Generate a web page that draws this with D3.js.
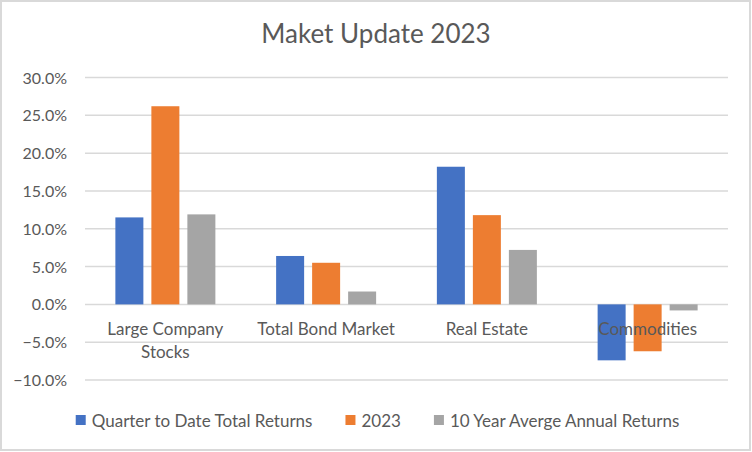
<!DOCTYPE html>
<html>
<head>
<meta charset="utf-8">
<script src="https://cdn.jsdelivr.net/npm/d3@7/dist/d3.min.js"></script>
<style>
  html, body { margin: 0; padding: 0; background: #fff; }
  svg { display: block; }
  text { font-family: Lato, "Open Sans", sans-serif; fill: #595959; }
</style>
</head>
<body>
<svg id="chart" width="752" height="452"></svg>
<script>
const categories = ["Large Company Stocks", "Total Bond Market", "Real Estate", "Commodities"];
const seriesNames = ["Quarter to Date Total Returns", "2023", "10 Year Averge Annual Returns"];
const quarterToDate = [11.5, 6.4, 18.2, -7.4];
const year2023 = [26.2, 5.5, 11.8, -6.2];
const tenYearAvg = [11.9, 1.7, 7.2, -0.8];
const yTicks = [-10, -5, 0, 5, 10, 15, 20, 25, 30];
const colors = ["#4472C4", "#ED7D31", "#A5A5A5"];
const title = "Maket Update 2023";

const seriesValues = [quarterToDate, year2023, tenYearAvg];
const svg = d3.select("#chart");

// chart border
svg.append("rect").attr("x", 1).attr("y", 1).attr("width", 749).attr("height", 449)
  .attr("fill", "#fff").attr("stroke", "#d9d9d9").attr("stroke-width", 2);

// title
svg.append("text").attr("x", 376).attr("y", 43).attr("text-anchor", "middle")
  .style("font-size", "26px").text(title);

const x0 = d3.scaleBand().domain(categories).range([85, 728]).padding(0);
const groupW = 100;
const x1 = d3.scaleBand().domain(seriesNames)
  .range([(x0.bandwidth() - groupW) / 2, (x0.bandwidth() + groupW) / 2])
  .paddingInner(8 / 36).paddingOuter(0);
const y = d3.scaleLinear().domain([-10, 30]).range([380, 77.5]);

// gridlines
svg.append("g").selectAll("line").data(yTicks).join("line")
  .attr("x1", 85).attr("x2", 728)
  .attr("y1", d => y(d)).attr("y2", d => y(d))
  .attr("stroke", "#d9d9d9").attr("stroke-width", 1.5);

// y axis labels
const yAxis = d3.axisLeft(y).tickValues(yTicks).tickSize(0).tickPadding(0)
  .tickFormat(d => d3.format(".1f")(d) + "%");
const yg = svg.append("g").attr("transform", "translate(67,0)").call(yAxis);
yg.select(".domain").remove();
yg.selectAll("text").style("font-size", "16px").attr("fill", "#595959")
  .style("font-family", "Lato, 'Open Sans', sans-serif").attr("dy", "0.35em");

// bars
const data = [];
categories.forEach((c, i) => seriesNames.forEach((s, j) => data.push({ c, s, j, v: seriesValues[j][i] })));
svg.append("g").selectAll("rect").data(data).join("rect")
  .attr("x", d => x0(d.c) + x1(d.s))
  .attr("width", x1.bandwidth())
  .attr("y", d => Math.min(y(d.v), y(0)))
  .attr("height", d => Math.abs(y(d.v) - y(0)))
  .attr("fill", d => colors[d.j]);

// category labels (wrapped)
const maxW = 150;
const catG = svg.append("g");
categories.forEach(c => {
  const cxl = x0(c) + x0.bandwidth() / 2;
  const t = catG.append("text").attr("x", cxl).attr("y", 335)
    .attr("text-anchor", "middle").style("font-size", "17px");
  const words = c.split(" ");
  let line = [];
  let tspan = t.append("tspan").attr("x", cxl).attr("dy", 0);
  words.forEach(w => {
    line.push(w);
    tspan.text(line.join(" "));
    if (tspan.node().getComputedTextLength() > maxW && line.length > 1) {
      line.pop();
      tspan.text(line.join(" "));
      line = [w];
      tspan = t.append("tspan").attr("x", cxl).attr("dy", 23).text(w);
    }
  });
});

// legend
const lg = svg.append("g");
const items = seriesNames.map((s, i) => {
  const g = lg.append("g");
  g.append("rect").attr("width", 10).attr("height", 10).attr("y", 415).attr("fill", colors[i]);
  const t = g.append("text").attr("x", 16).attr("y", 426.5).style("font-size", "17px").text(s);
  return { g, w: 16 + t.node().getComputedTextLength() };
});
const gap = 33;
const total = d3.sum(items, d => d.w) + gap * (items.length - 1);
let cx = 377.5 - total / 2;
items.forEach(it => { it.g.attr("transform", `translate(${cx},0)`); cx += it.w + gap; });
</script>
</body>
</html>
